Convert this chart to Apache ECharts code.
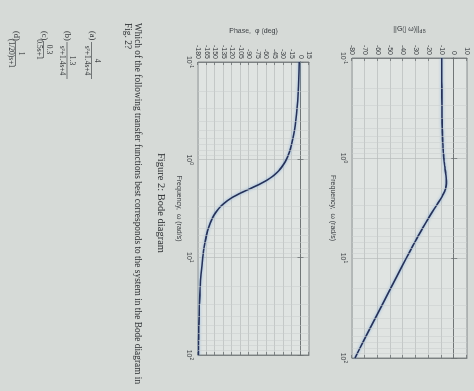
<!DOCTYPE html>
<html><head><meta charset="utf-8">
<script src="https://cdn.jsdelivr.net/npm/echarts@6/dist/echarts.min.js"></script>
<style>
html,body{margin:0;padding:0;width:474px;height:391px;overflow:hidden;background:#d6dad7;}
#wrap{position:absolute;left:0;top:0;width:391px;height:474px;transform-origin:0 0;transform:translate(474px,0) rotate(90deg);}
#chart{width:391px;height:474px;}
</style></head><body><div id="wrap"><div id="chart"></div></div>
<script>
// Frequency samples (rad/s)
const freq = [0.1,0.15,0.2,0.3,0.4,0.5,0.6,0.7,0.8,0.9,1.0,1.1,1.2,1.3,1.4,1.5,1.6,1.7,1.8,1.9,2.0,2.1,2.2,2.3,2.4,2.5,2.7,3.0,3.5,4,5,6,7,8,10,15,20,30,50,70,100];
// Magnitude ||G(jw)|| in dB
const magDb = [-9.75,-9.73,-9.70,-9.61,-9.50,-9.35,-9.17,-8.95,-8.71,-8.43,-8.12,-7.79,-7.44,-7.09,-6.75,-6.46,-6.23,-6.11,-6.13,-6.31,-6.66,-7.17,-7.80,-8.52,-9.30,-10.10,-11.72,-14.02,-17.36,-20.16,-24.62,-28.11,-30.99,-33.43,-37.46,-44.65,-49.70,-56.78,-65.67,-71.52,-77.72];
// Phase in degrees
const phaseDeg = [-2.0,-3.0,-4.0,-6.1,-8.3,-10.6,-13.0,-15.6,-18.4,-21.6,-25.0,-28.9,-33.3,-38.2,-43.9,-50.2,-57.3,-65.0,-73.2,-81.7,-90.0,-97.9,-105.3,-111.8,-117.7,-122.7,-131.0,-140.0,-149.3,-155.0,-161.6,-165.3,-167.7,-169.4,-171.7,-174.6,-176.0,-177.3,-178.4,-178.9,-179.2];
// Tick labels
const freqTicks = [0.1, 1, 10, 100];
const minorFreq = [0.2,0.3,0.4,0.5,0.6,0.7,0.8,0.9,2,3,4,5,6,7,8,9,20,30,40,50,60,70,80,90];
const magTicks = [-80,-70,-60,-50,-40,-30,-20,-10,0,10];
const phaseTicks = [-180,-165,-150,-135,-120,-105,-90,-75,-60,-45,-30,-15,0,15];
// Texts
const question1 = 'Which of the following transfer functions best corresponds to the system in the Bode diagram in';
const question2 = 'Fig. 2?';
const optLabels = ['(a)','(b)','(c)','(d)'];
const optNum = ['4','1.3','0.3','1'];
const optDen = ['s\u00b2+1.4s+4','s\u00b2+1.4s+4','0.5s+1','(1/20)s+1'];
const caption = 'Figure 2: Bode diagram';

const TXT = '#3b3f43', GRID = '#b7bcbb', FRAME = '#6d7274', PLOTBG = '#e0e4e2';
const SANS = 'Liberation Sans, Arial, sans-serif';
const SERIF = 'Liberation Serif, Times New Roman, serif';

const chart = echarts.init(document.getElementById('chart'), null, {renderer:'canvas'});

function freqAxis(gi, withLabels){
  return {
    gridIndex: gi, type:'log', logBase:10, min: freqTicks[0], max: freqTicks[freqTicks.length-1],
    position: withLabels ? 'bottom' : 'top',
    axisLine:{show:true, lineStyle:{color:FRAME, width:0.8}},
    axisTick:{show:true, inside:true, length:3, lineStyle:{color:FRAME, width:0.8}},
    axisLabel:{show:withLabels, margin:4, color:TXT,
      formatter: v => '{b|10}{s|' + Math.round(Math.log10(v)) + '}',
      rich:{b:{fontSize:7, fontFamily:SANS, color:TXT}, s:{fontSize:5, fontFamily:SANS, color:TXT, padding:[0,0,5,0]}}},
    splitLine:{show:withLabels, lineStyle:{color:GRID, width:0.7}},
    name: withLabels ? 'Frequency,  \u03c9 (rad/s)' : '', nameLocation:'middle', nameGap:16,
    nameTextStyle:{fontSize:7, fontFamily:SANS, color:TXT}
  };
}
function valAxis(gi, ticks, withLabels, name){
  return {
    gridIndex: gi, type:'value', min: ticks[0], max: ticks[ticks.length-1], interval: ticks[1]-ticks[0],
    position: withLabels ? 'left' : 'right',
    axisLine:{show:true, lineStyle:{color:FRAME, width:0.8}},
    axisTick:{show:true, inside:true, length:3, lineStyle:{color:FRAME, width:0.8}},
    axisLabel:{show:withLabels, margin:3, fontSize:7, fontFamily:SANS, color:TXT},
    splitLine:{show:withLabels, lineStyle:{color:GRID, width:0.7}},
    name: withLabels ? name : '', nameLocation:'middle', nameRotate:90, nameGap:13,
    nameTextStyle:{fontSize:7, fontFamily:SANS, color:TXT,
      rich:{n:{fontSize:7, fontFamily:SANS, color:TXT}, d:{fontSize:5, fontFamily:SANS, color:TXT, padding:[4,0,0,0]}}}
  };
}
function curve(xi, yi, vals){
  return {
    type:'line', xAxisIndex:xi, yAxisIndex:yi, showSymbol:false, smooth:0.3,
    data: freq.map((f,i)=>[f, vals[i]]),
    lineStyle:{color:'#263158', width:1.6, shadowColor:'rgba(120,170,225,0.9)', shadowBlur:3},
    markLine:{silent:true, symbol:'none', animation:false, label:{show:false},
      lineStyle:{color:'#c8cdcc', width:0.5, type:'solid'},
      data: minorFreq.map(v=>({xAxis:v}))},
    z:3
  };
}

const graphic = [];
graphic.push({type:'text', x:23, y:337, style:{text:question1, font:'9.4px '+SERIF, fill:'#2e3134', verticalAlign:'middle'}});
graphic.push({type:'text', x:23, y:346.5, style:{text:question2, font:'9.4px '+SERIF, fill:'#2e3134', verticalAlign:'middle'}});
const optY = [382, 406.5, 430, 458];
const fracCx = [60.5, 60.5, 49.5, 53.5];
const fracW = [37, 37, 17, 25];
optLabels.forEach((lab,i)=>{
  const y = optY[i];
  graphic.push({type:'text', x:31, y:y, style:{text:lab, font:'8.5px '+SERIF, fill:'#2e3134', verticalAlign:'middle'}});
  graphic.push({type:'text', x:fracCx[i], y:y-4.5, style:{text:optNum[i], font:'7.5px '+SERIF, fill:'#2e3134', align:'center', verticalAlign:'middle'}});
  graphic.push({type:'line', shape:{x1:fracCx[i]-fracW[i]/2, y1:y+0.5, x2:fracCx[i]+fracW[i]/2, y2:y+0.5}, style:{stroke:'#2e3134', lineWidth:0.6}});
  graphic.push({type:'text', x:fracCx[i], y:y+5.5, style:{text:optDen[i], font:'7.5px '+SERIF, fill:'#2e3134', align:'center', verticalAlign:'middle'}});
});
graphic.push({type:'text', x:203, y:313, style:{text:caption, font:'10.5px '+SERIF, fill:'#2e3134', align:'center', verticalAlign:'middle'}});

chart.setOption({
  animation:false,
  backgroundColor:'#d6dad7',
  grid:[
    {left:58, top:7, width:300, height:115, show:true, backgroundColor:PLOTBG, borderColor:FRAME, borderWidth:0.8},
    {left:62, top:165, width:293, height:111, show:true, backgroundColor:PLOTBG, borderColor:FRAME, borderWidth:0.8}
  ],
  xAxis:[freqAxis(0,true), freqAxis(0,false), freqAxis(1,true), freqAxis(1,false)],
  yAxis:[valAxis(0,magTicks,true,'{n|||G(j \u03c9)||}{d|dB}'), valAxis(0,magTicks,false,''),
         valAxis(1,phaseTicks,true,'Phase,  \u03c6 (deg)'), valAxis(1,phaseTicks,false,'')],
  series:[curve(0,0,magDb), curve(2,2,phaseDeg)],
  graphic: graphic
});
</script></body></html>
